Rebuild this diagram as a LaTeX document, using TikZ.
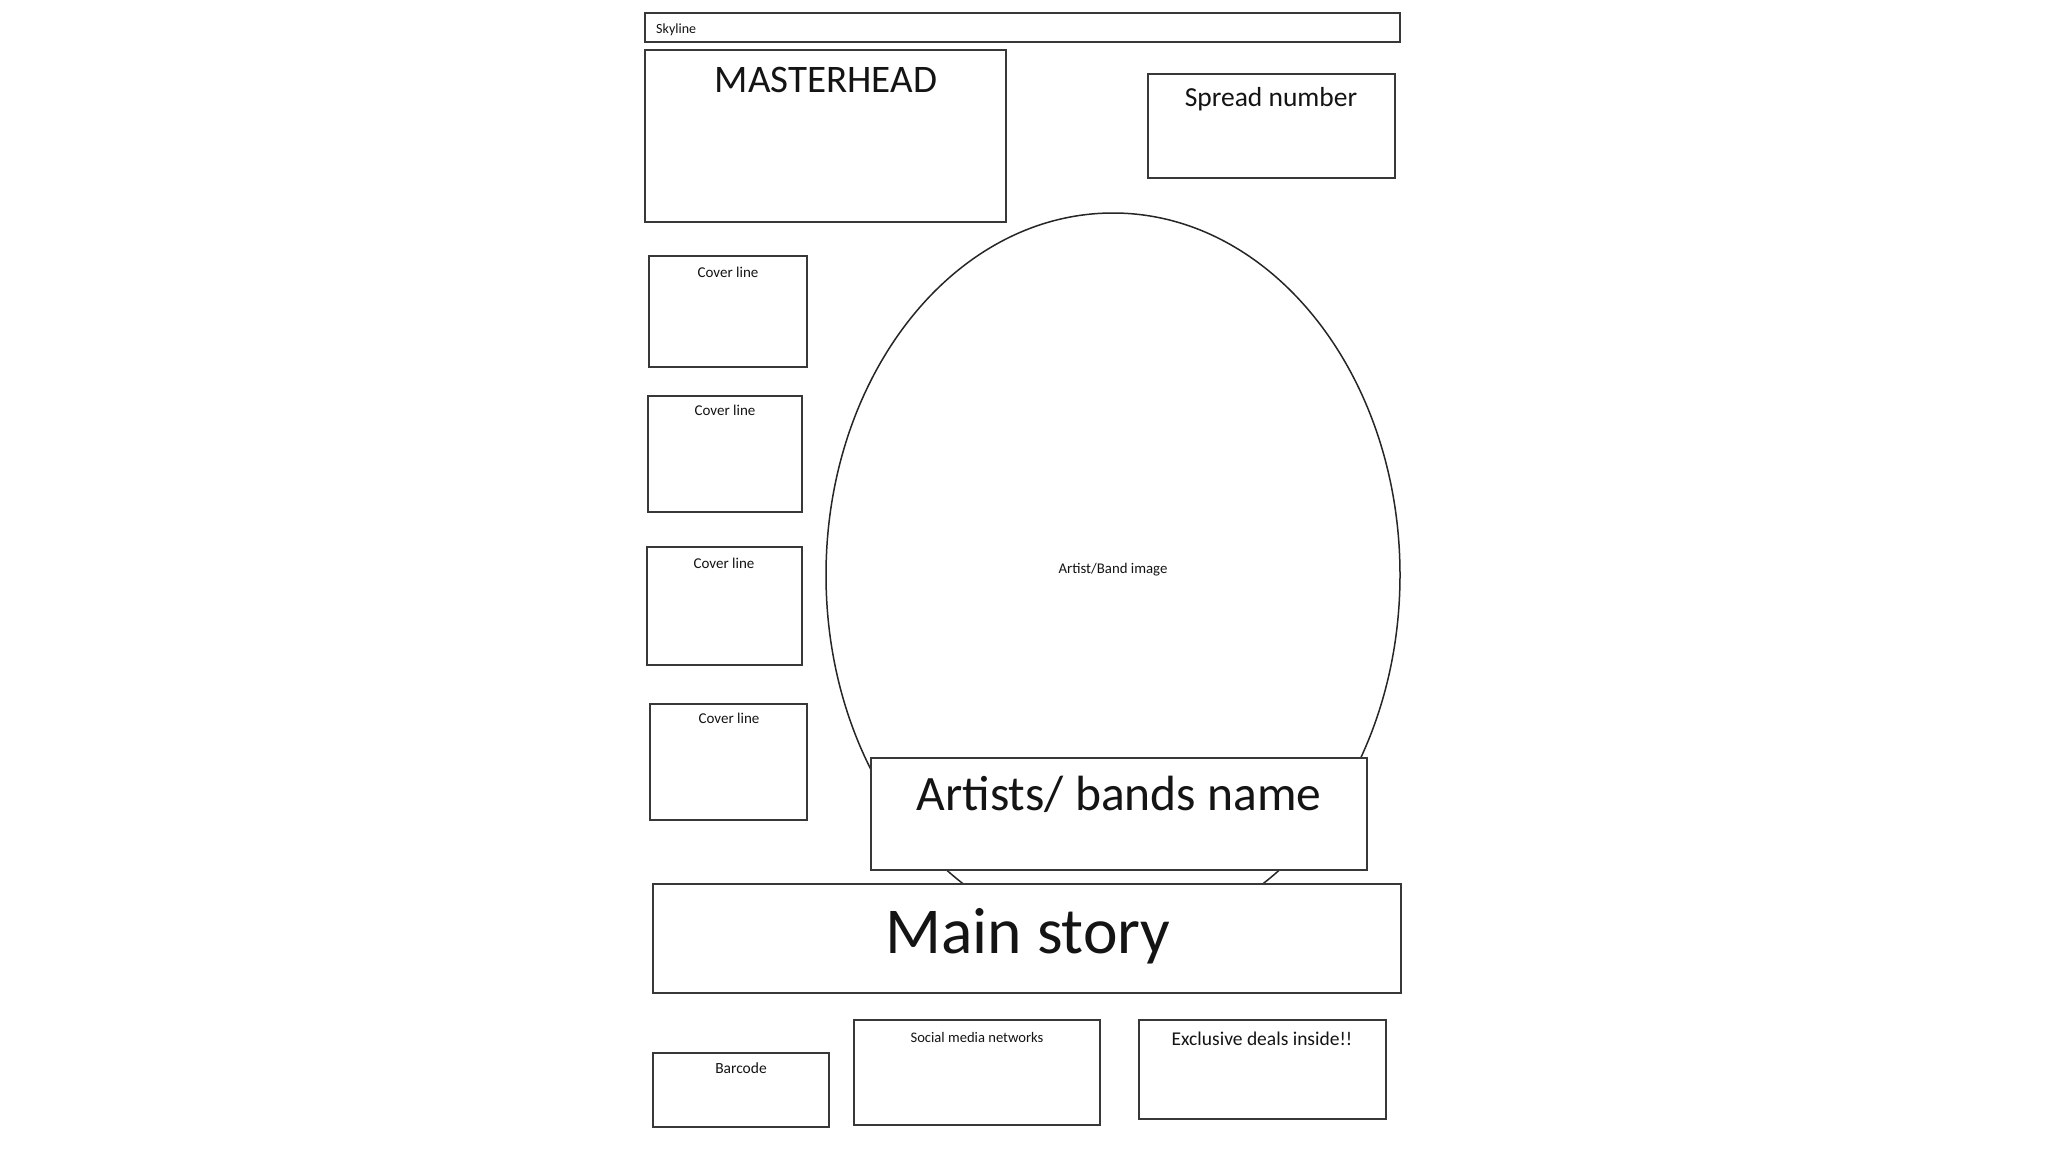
\documentclass[tikz,border=0pt]{standalone}
\usepackage{fontspec}
\setmainfont{Carlito}
\usetikzlibrary{shapes.geometric}
\begin{document}
\begin{tikzpicture}[x=1pt,y=-1pt,
  box/.style={draw=black!78, line width=1.8pt, fill=white, rectangle, inner sep=0pt},
  oval/.style={draw=black!85, line width=1.5pt, ellipse, inner sep=0pt},
  lbl/.style={anchor=base, inner sep=0pt, text=black!92},
  fs/.style={font=\fontsize{#1}{#1}\selectfont},
]
\useasboundingbox[fill=white] (0,0) rectangle (2048,1152);

% image oval (behind)
\node[oval, minimum width=574, minimum height=724] (img) at (1113,575) {};
\node[lbl, fs=14.8] (imgt) at (1113,573) {Artist/Band image};

% boxes
\node[box, minimum width=755, minimum height=29] (sky) at (1022.5,27.5) {};
\node[box, minimum width=361, minimum height=172] (mast) at (825.5,136) {};
\node[box, minimum width=247, minimum height=104] (spread) at (1271.5,126) {};
\node[box, minimum width=158, minimum height=111] (c1) at (728,311.5) {};
\node[box, minimum width=154, minimum height=116] (c2) at (725,454) {};
\node[box, minimum width=155, minimum height=118] (c3) at (724.5,606) {};
\node[box, minimum width=157, minimum height=116] (c4) at (728.5,762) {};
\node[box, minimum width=496, minimum height=112] (artists) at (1119,814) {};
\node[box, minimum width=748, minimum height=109] (main) at (1027,938.5) {};
\node[box, minimum width=176, minimum height=74] (bar) at (741,1090) {};
\node[box, minimum width=246, minimum height=105] (social) at (977,1072.5) {};
\node[box, minimum width=247, minimum height=99] (excl) at (1262.5,1069.5) {};

% texts
\node[lbl, fs=14, anchor=base west] (skyt) at (656,33) {Skyline};
\node[lbl, fs=39] (mastt) at (826,92) {MASTERHEAD};
\node[lbl, fs=27.5] (spreadt) at (1271,106) {Spread number};
\node[lbl, fs=15] (c1t) at (728,277) {Cover line};
\node[lbl, fs=15] (c2t) at (725,415) {Cover line};
\node[lbl, fs=15] (c3t) at (724,568) {Cover line};
\node[lbl, fs=15] (c4t) at (729,723) {Cover line};
\node[lbl, fs=49.5] (artistst) at (1119,810) {Artists/ bands name};
\node[lbl, fs=65.5] (maint) at (1028,953) {Main story};
\node[lbl, fs=15.5] (bart) at (741,1073) {Barcode};
\node[lbl, fs=14.6] (socialt) at (977,1042) {Social media networks};
\node[lbl, fs=19.5] (exclt) at (1262,1045) {Exclusive deals inside!!};
\end{tikzpicture}
\end{document}
